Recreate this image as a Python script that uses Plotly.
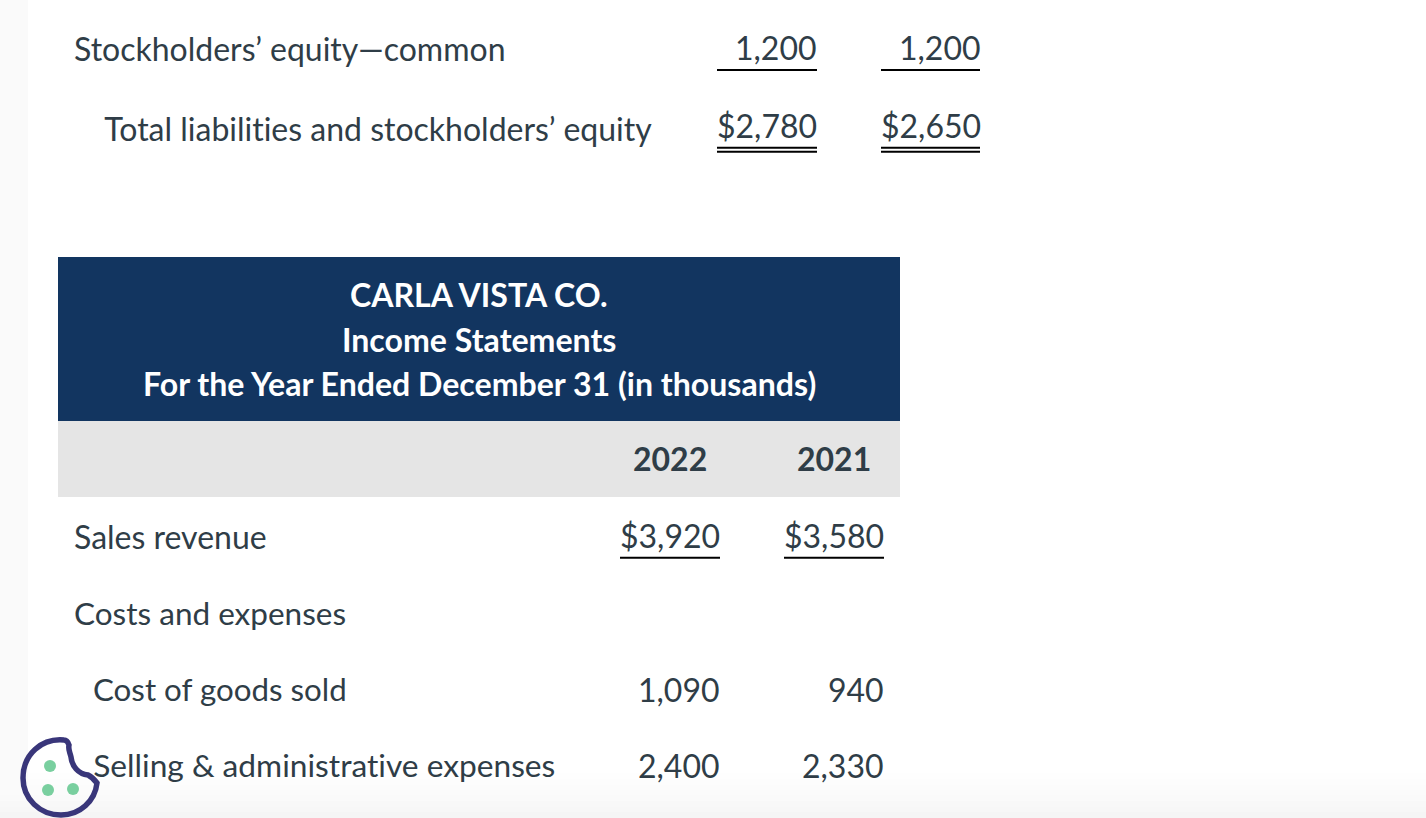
import plotly.graph_objects as go

# top of the balance sheet that is still visible
balance_labels = ["Stockholders’ equity—common", "Total liabilities and stockholders’ equity"]
balance_2022 = ["1,200", "$2,780"]
balance_2021 = ["1,200", "$2,650"]

# income statement
title_lines = ["CARLA VISTA CO.", "Income Statements", "For the Year Ended December 31 (in thousands)"]
years = ["2022", "2021"]
income_labels = ["Sales revenue", "Costs and expenses", "Cost of goods sold", "Selling & administrative expenses"]
income_2022 = ["$3,920", "", "1,090", "2,400"]
income_2021 = ["$3,580", "", "940", "2,330"]

FONT = "Lato, Carlito, 'Open Sans', sans-serif"
TEXT = "#2f3d47"
NAVY = "#123560"
GREY = "#e5e5e5"
SIZE = 32

fig = go.Figure()


def add_text(x, y, text, anchor, color=TEXT, bold=False, size=SIZE):
    # annotations carry a little padding, pull them back onto the anchor
    shift = {"left": -2, "right": 2, "center": 0}[anchor]
    fig.add_annotation(
        x=x, y=y, text=f"<b>{text}</b>" if bold else text,
        xanchor=anchor, yanchor="middle", showarrow=False, xshift=shift,
        font=dict(family=FONT, size=size, color=color),
    )


def rule(x0, x1, y, width=2):
    fig.add_shape(type="line", x0=x0, x1=x1, y0=y, y1=y, line=dict(color="black", width=width), layer="above")


# fade at the bottom, then the pale page edge
for i, c in enumerate(["#fefefe", "#fdfdfd", "#fcfcfc", "#fbfbfb", "#fafafa", "#f8f8f8", "#f7f7f7", "#f5f5f5"]):
    fig.add_shape(type="rect", x0=0, x1=1426, y0=773 + i * 5.6, y1=818, fillcolor=c, line_width=0, layer="below")
fig.add_shape(type="rect", x0=0, x1=28, y0=0, y1=790, fillcolor="#fafafa", line_width=0, layer="below")

# header blocks
fig.add_shape(type="rect", x0=58, x1=900, y0=257, y1=421, fillcolor=NAVY, line_width=0, layer="below")
fig.add_shape(type="rect", x0=58, x1=900, y0=421, y1=497, fillcolor=GREY, line_width=0, layer="below")

# balance sheet rows
for label, y, x in zip(balance_labels, [48, 128], [74, 104]):
    add_text(x, y, label, "left")
for a, b, y in zip(balance_2022, balance_2021, [47, 125]):
    add_text(817, y, a, "right")
    add_text(981, y, b, "right")
rule(717, 817, 70)
rule(881, 980, 70)
for y in [147.7, 151.7]:
    rule(717, 817, y)
    rule(881, 980, y)

# statement heading
for line, y in zip(title_lines, [294, 339, 383]):
    add_text(479, y, line, "center", color="white", bold=True, size=32.1)
for year, x in zip(years, [670, 834]):
    add_text(x, 458.5, year, "center", bold=True)

# statement rows, the renderer sets these a touch wider than the original
for label, y, x, s in zip(income_labels, [536, 613, 689, 765], [74, 74, 93, 93], [32, 31.5, 31.3, 31.7]):
    add_text(x, y, label, "left", size=s)
for a, b, y in zip(income_2022, income_2021, [535, 613, 689, 765]):
    if a:
        add_text(720, y, a, "right")
        add_text(884, y, b, "right")
rule(620, 720, 557.7)
rule(784, 884, 557.7)

# cookie badge
fig.add_shape(
    type="path",
    path="M 64 740 C 42 738 23 754 23 778 C 23 799 40 815 61 815 C 80 815 95 801 97 783 "
         "C 94 779 92 777 88 775 C 78 774 72 766 71 757 C 70 752 68 750 69 745 C 68 742 67 740 64 740 Z",
    line=dict(color="#39367a", width=5.5), fillcolor="rgba(255,255,255,0)", layer="above",
)
for cx, cy, r in [(50, 766, 6), (48, 790, 6), (73, 789, 6)]:
    fig.add_shape(type="circle", x0=cx - r, x1=cx + r, y0=cy - r, y1=cy + r,
                  fillcolor="#79cf9f", line_width=0, layer="above")

fig.update_xaxes(range=[0, 1426], visible=False, fixedrange=True)
fig.update_yaxes(range=[818, 0], visible=False, fixedrange=True)
fig.update_layout(
    width=1426, height=818, margin=dict(l=0, r=0, t=0, b=0),
    paper_bgcolor="white", plot_bgcolor="white", showlegend=False,
)

# no page margin, no ti/fi ligatures (plotly sets font-variant inline, hence !important)
page_js = """
document.body.style.margin='0';
var st=document.createElement('style');
st.textContent='text,tspan{font-variant-ligatures:none !important;font-feature-settings:"liga" 0,"clig" 0,"calt" 0,"dlig" 0 !important;}';
document.head.appendChild(st);
Plotly.redraw('{plot_id}');
"""
fig.write_html("out.html", post_script=page_js, config=dict(displayModeBar=False))
